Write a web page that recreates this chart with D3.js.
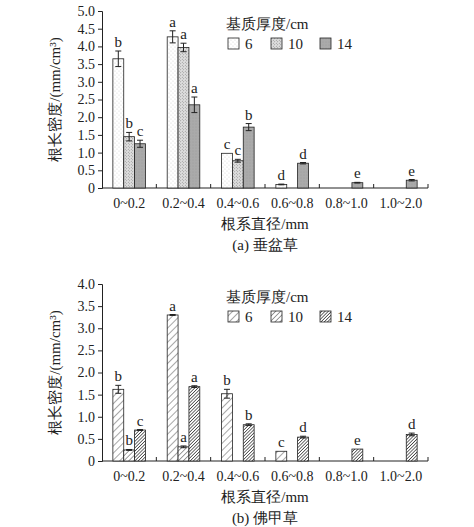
<!DOCTYPE html>
<html><head><meta charset="utf-8">
<script src="https://cdn.jsdelivr.net/npm/d3@7"></script>
<style>body{margin:0;background:#fff}text{font-family:"Liberation Serif","DejaVu Serif",serif}</style>
</head><body><svg id="c" width="474" height="527"></svg>
<script>
const categories = ["0~0.2", "0.2~0.4", "0.4~0.6", "0.6~0.8", "0.8~1.0", "1.0~2.0"];
const series = ["6", "10", "14"];
// panel (a)
const aVals = [[3.65, 4.27, 0.98, 0.10, 0, 0], [1.45, 3.97, 0.77, 0, 0, 0], [1.25, 2.35, 1.72, 0.70, 0.15, 0.22]];
const aErr = [[0.22, 0.17, 0, 0.01, 0, 0], [0.12, 0.12, 0.04, 0, 0, 0], [0.10, 0.22, 0.10, 0.02, 0.01, 0.02]];
const aLetters = [["b", "a", "c", "d", "", ""], ["b", "a", "c", "", "", ""], ["c", "a", "b", "d", "e", "e"]];
const aTicks = [0, 0.5, 1, 1.5, 2, 2.5, 3, 3.5, 4, 4.5, 5];
// panel (b)
const bVals = [[1.62, 3.30, 1.52, 0.22, 0, 0], [0.25, 0.32, 0, 0, 0, 0], [0.70, 1.68, 0.82, 0.54, 0.27, 0.60]];
const bErr = [[0.09, 0.01, 0.10, 0, 0, 0], [0.01, 0.02, 0, 0, 0, 0], [0.01, 0.02, 0.02, 0.02, 0, 0.03]];
const bLetters = [["b", "a", "b", "c", "", ""], ["b", "a", "", "", "", ""], ["c", "a", "b", "d", "e", "d"]];
const bTicks = [0, 0.5, 1, 1.5, 2, 2.5, 3, 3.5, 4];

const svg = d3.select("#c");
const defs = svg.append("defs");
function dots(id, bg, step, r) {
  const p = defs.append("pattern").attr("id", id).attr("patternUnits", "userSpaceOnUse").attr("width", step).attr("height", step);
  p.append("rect").attr("width", step).attr("height", step).attr("fill", bg);
  p.append("circle").attr("cx", step / 4).attr("cy", step / 4).attr("r", r).attr("fill", "#666");
  p.append("circle").attr("cx", step * 3 / 4).attr("cy", step * 3 / 4).attr("r", r).attr("fill", "#666");
}
function hatch(id, step, w) {
  const p = defs.append("pattern").attr("id", id).attr("patternUnits", "userSpaceOnUse").attr("width", step).attr("height", step)
    .attr("patternTransform", "rotate(45)");
  p.append("rect").attr("width", step).attr("height", step).attr("fill", "#fff");
  p.append("line").attr("x1", 0).attr("y1", 0).attr("x2", 0).attr("y2", step).attr("stroke", "#222").attr("stroke-width", w);
}
dots("d6", "#fff", 4, 0.35);
dots("d10", "#ddd", 3, 0.45);
defs.append("pattern").attr("id", "d14").attr("patternUnits", "userSpaceOnUse").attr("width", 3).attr("height", 3)
  .call(p => { p.append("rect").attr("width", 3).attr("height", 3).attr("fill", "#aaa"); p.append("circle").attr("cx", 1).attr("cy", 1).attr("r", 0.4).attr("fill", "#888"); });
hatch("h6", 5, 0.8);
hatch("h10", 3.5, 0.9);
hatch("h14", 2.3, 1.3);

function panel(top, bottom, ymax, ticks, vals, errs, letters, fills, caption) {
  const x = d3.scaleBand().domain(categories).range([102, 428]).paddingInner(0.4).paddingOuter(0.2);
  const xs = d3.scaleBand().domain(series).range([0, x.bandwidth()]);
  const y = d3.scaleLinear().domain([0, ymax]).range([bottom, top]);
  const g = svg.append("g");
  g.append("g").attr("transform", `translate(102,0)`)
    .call(d3.axisLeft(y).tickValues(ticks).tickSize(4).tickFormat(d => d === 0 ? "0" : d3.format(".1f")(d)))
    .call(a => a.selectAll("text").attr("font-size", 14).attr("fill", "#222"))
    .call(a => a.selectAll("line,path").attr("stroke", "#222"));
  const xa = g.append("g").attr("transform", `translate(0,${bottom})`)
    .call(d3.axisBottom(x).tickSize(0).tickPadding(10));
  xa.selectAll("text").attr("font-size", 14).attr("fill", "#222");
  xa.select("path").attr("stroke", "#222").attr("d", `M102,0H428`);
  const step = (428 - 102) / categories.length;
  categories.forEach((c, i) => g.append("line").attr("x1", 102 + step * (i + 1)).attr("x2", 102 + step * (i + 1))
    .attr("y1", bottom).attr("y2", bottom - 4).attr("stroke", "#222"));
  series.forEach((s, si) => {
    categories.forEach((c, ci) => {
      const v = vals[si][ci];
      if (!v) return;
      const bx = x(c) + xs(s), bw = xs.bandwidth();
      g.append("rect").attr("x", bx).attr("y", y(v)).attr("width", bw).attr("height", y(0) - y(v))
        .attr("fill", `url(#${fills[si]})`).attr("stroke", "#222").attr("stroke-width", 0.8);
      const e = errs[si][ci], cx = bx + bw / 2;
      if (e > 0) {
        g.append("path").attr("d", `M${cx},${y(v - e)}V${y(v + e)}M${cx - 3},${y(v + e)}H${cx + 3}M${cx - 3},${y(v - e)}H${cx + 3}`)
          .attr("stroke", "#222").attr("fill", "none");
      }
      if (letters[si][ci]) g.append("text").attr("x", cx).attr("y", y(v + e) - 4).attr("text-anchor", "middle")
        .attr("font-size", 15).attr("fill", "#222").text(letters[si][ci]);
    });
  });
  // y title
  g.append("text").attr("transform", `translate(60,${(top + bottom) / 2}) rotate(-90)`).attr("text-anchor", "middle")
    .attr("font-size", 15).attr("fill", "#222").text("根长密度/(mm/cm³)");
  g.append("text").attr("x", 265).attr("y", bottom + 41).attr("text-anchor", "middle").attr("font-size", 15).attr("fill", "#222").text("根系直径/mm");
  g.append("text").attr("x", 265).attr("y", bottom + 62).attr("text-anchor", "middle").attr("font-size", 15).attr("fill", "#222").text(caption);
  // legend
  const lg = g.append("g").attr("transform", `translate(226,${top + 12})`);
  lg.append("text").attr("x", 0).attr("y", 6).attr("font-size", 15).attr("fill", "#222").text("基质厚度/cm");
  const lx = [0, 43, 92];
  series.forEach((s, si) => {
    lg.append("rect").attr("x", lx[si] + 2).attr("y", 15).attr("width", 11).attr("height", 11)
      .attr("fill", `url(#${fills[si]})`).attr("stroke", "#222").attr("stroke-width", 0.8);
    lg.append("text").attr("x", lx[si] + 19).attr("y", 26).attr("font-size", 15).attr("fill", "#222").text(s);
  });
}
panel(11, 188, 5, aTicks, aVals, aErr, aLetters, ["d6", "d10", "d14"], "(a) 垂盆草");
panel(284, 461, 4, bTicks, bVals, bErr, bLetters, ["h6", "h10", "h14"], "(b) 佛甲草");
</script></body></html>
